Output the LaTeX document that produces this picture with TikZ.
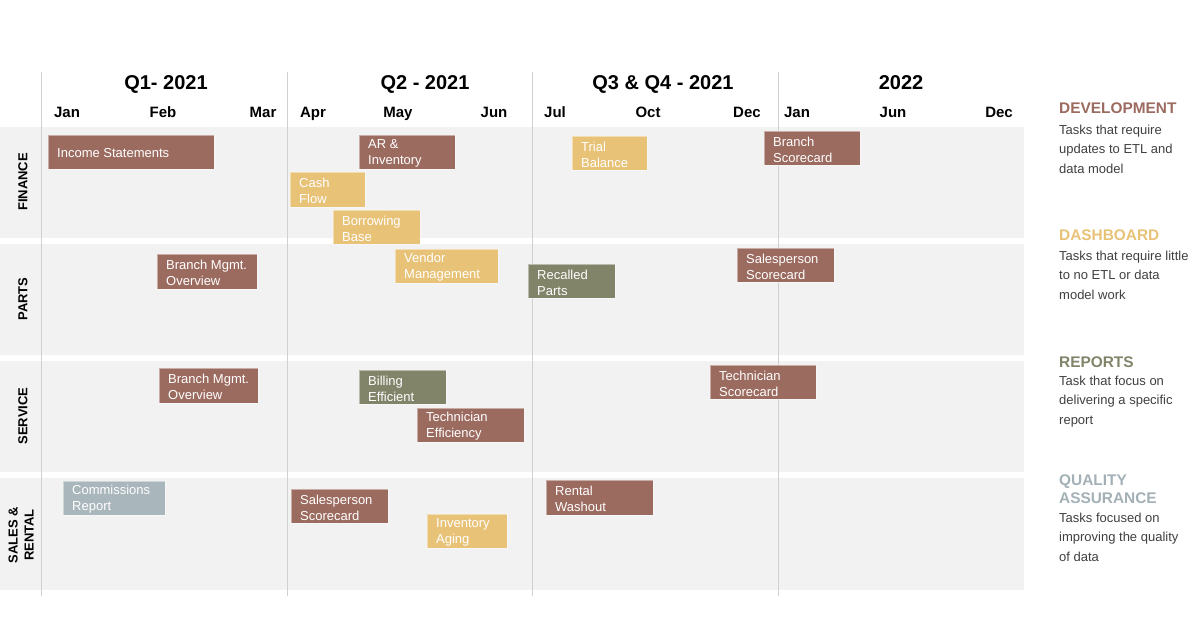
\documentclass[tikz,border=0pt]{standalone}
\usepackage{fontspec}
\setmainfont{Liberation Sans}
\definecolor{dev}{HTML}{9C6B60}
\definecolor{dash}{HTML}{E8C277}
\definecolor{rep}{HTML}{82846A}
\definecolor{qa}{HTML}{A9B6BB}
\definecolor{qatitle}{HTML}{A3B1B7}
\definecolor{band}{HTML}{F2F2F2}
\definecolor{grid}{HTML}{D0D0D0}
\definecolor{desc}{HTML}{404040}
\tikzset{
  taskbox/.style={rectangle,draw=white,draw opacity=0.45,line width=1pt,inner sep=0pt,outer sep=0pt},
  tasktext/.style={text=white,align=left,inner sep=0pt,font=\fontsize{13}{16}\selectfont},
  quarter/.style={font=\bfseries\fontsize{20}{24}\selectfont,anchor=base,inner sep=0pt},
  month/.style={font=\bfseries\fontsize{15}{18}\selectfont,anchor=base,inner sep=0pt},
  rowlabel/.style={font=\bfseries\fontsize{13}{16}\selectfont,rotate=90,align=center,inner sep=0pt},
  legtitle/.style={font=\bfseries\fontsize{15.4}{18}\selectfont,anchor=base west,inner sep=0pt},
  legdesc/.style={font=\fontsize{13}{16}\selectfont,text=desc,anchor=base west,inner sep=0pt},
  gridline/.style={draw=grid,line width=1pt}
}
\newcommand\taskbar[7]{%
  \pgfmathsetmacro\bw{#4-#2}\pgfmathsetmacro\bh{#5-#3}%
  \node[taskbox,fill=#6,minimum width=\bw pt,minimum height=\bh pt,anchor=north west] (#1) at (#2,#3) {};
  \node[tasktext,anchor=west] (#1-t) at ([xshift=9pt,yshift=-1.5pt]#1.west) {#7};}
\begin{document}
\begin{tikzpicture}[x=1pt,y=-1pt]
\useasboundingbox (0,0) rectangle (1200,627);
\fill[white] (0,0) rectangle (1200,627);
% bands
\fill[band] (0,127) rectangle (1024,238);
\fill[band] (0,244) rectangle (1024,355);
\fill[band] (0,361) rectangle (1024,472);
\fill[band] (0,478) rectangle (1024,590);
% grid lines
\foreach \gx in {41,287,532,778} \draw[gridline] (\gx,72) -- (\gx,596);
% headers
\node[quarter] (q1) at (166,89) {Q1- 2021};
\node[quarter] (q2) at (425,89) {Q2 - 2021};
\node[quarter] (q3) at (663,89) {Q3 \& Q4 - 2021};
\node[quarter] (q5) at (901,89) {2022};
\node[month] (m1) at (67,117) {Jan};
\node[month] (m2) at (163,117) {Feb};
\node[month] (m3) at (263,117) {Mar};
\node[month] (m4) at (313,117) {Apr};
\node[month] (m5) at (398,117) {May};
\node[month] (m6) at (494,117) {Jun};
\node[month] (m7) at (555,117) {Jul};
\node[month] (m8) at (648,117) {Oct};
\node[month] (m9) at (747,117) {Dec};
\node[month] (m10) at (797,117) {Jan};
\node[month] (m11) at (893,117) {Jun};
\node[month] (m12) at (999,117) {Dec};
% row labels
\node[rowlabel] (rfin) at (23,182) {FINANCE};
\node[rowlabel] (rpar) at (23,299) {PARTS};
\node[rowlabel] (rser) at (23,416) {SERVICE};
\node[rowlabel] (rsal) at (21,535) {SALES \&\\RENTAL};
% tasks
\taskbar{incst}{48}{135}{214}{169}{dev}{Income Statements}
\taskbar{arinv}{359}{135}{455}{169}{dev}{AR \&\\Inventory}
\taskbar{cash}{290}{172}{365}{207}{dash}{Cash\\Flow}
\taskbar{borrow}{333}{210}{420}{244}{dash}{Borrowing\\Base}
\taskbar{trial}{572}{136}{647}{170}{dash}{Trial\\Balance}
\taskbar{brsc}{764}{131}{860}{165}{dev}{Branch\\Scorecard}
\taskbar{bmop}{157}{254}{257}{289}{dev}{Branch Mgmt.\\Overview}
\taskbar{vendor}{395}{249}{498}{283}{dash}{Vendor\\Management}
\taskbar{recall}{528}{264}{615}{298}{rep}{Recalled\\Parts}
\taskbar{salesp}{737}{248}{834}{282}{dev}{Salesperson\\Scorecard}
\taskbar{bmos}{159}{368}{258}{403}{dev}{Branch Mgmt.\\Overview}
\taskbar{billing}{359}{370}{446}{404}{rep}{Billing\\Efficient}
\taskbar{techeff}{417}{408}{524}{442}{dev}{Technician\\Efficiency}
\taskbar{techsc}{710}{365}{816}{399}{dev}{Technician\\Scorecard}
\taskbar{comm}{63}{481}{165}{515}{qa}{Commissions\\Report}
\taskbar{salesc}{291}{489}{388}{523}{dev}{Salesperson\\Scorecard}
\taskbar{invag}{427}{514}{507}{548}{dash}{Inventory\\Aging}
\taskbar{rental}{546}{480}{653}{515}{dev}{Rental\\Washout}
% legend
\node[legtitle,text=dev] (l1) at (1059,113) {DEVELOPMENT};
\node[legdesc] (l1a) at (1059,134) {Tasks that require};
\node[legdesc] (l1b) at (1059,153.5) {updates to ETL and};
\node[legdesc] (l1c) at (1059,173) {data model};
\node[legtitle,text=dash] (l2) at (1059,240) {DASHBOARD};
\node[legdesc] (l2a) at (1059,260) {Tasks that require little};
\node[legdesc] (l2b) at (1059,279.5) {to no ETL or data};
\node[legdesc] (l2c) at (1059,299) {model work};
\node[legtitle,text=rep] (l3) at (1059,367) {REPORTS};
\node[legdesc] (l3a) at (1059,385) {Task that focus on};
\node[legdesc] (l3b) at (1059,404.5) {delivering a specific};
\node[legdesc] (l3c) at (1059,424) {report};
\node[legtitle,text=qatitle] (l4) at (1059,485) {QUALITY};
\node[legtitle,text=qatitle] (l4b) at (1059,503) {ASSURANCE};
\node[legdesc] (l4c) at (1059,522) {Tasks focused on};
\node[legdesc] (l4d) at (1059,541.5) {improving the quality};
\node[legdesc] (l4e) at (1059,561) {of data};
\end{tikzpicture}
\end{document}
